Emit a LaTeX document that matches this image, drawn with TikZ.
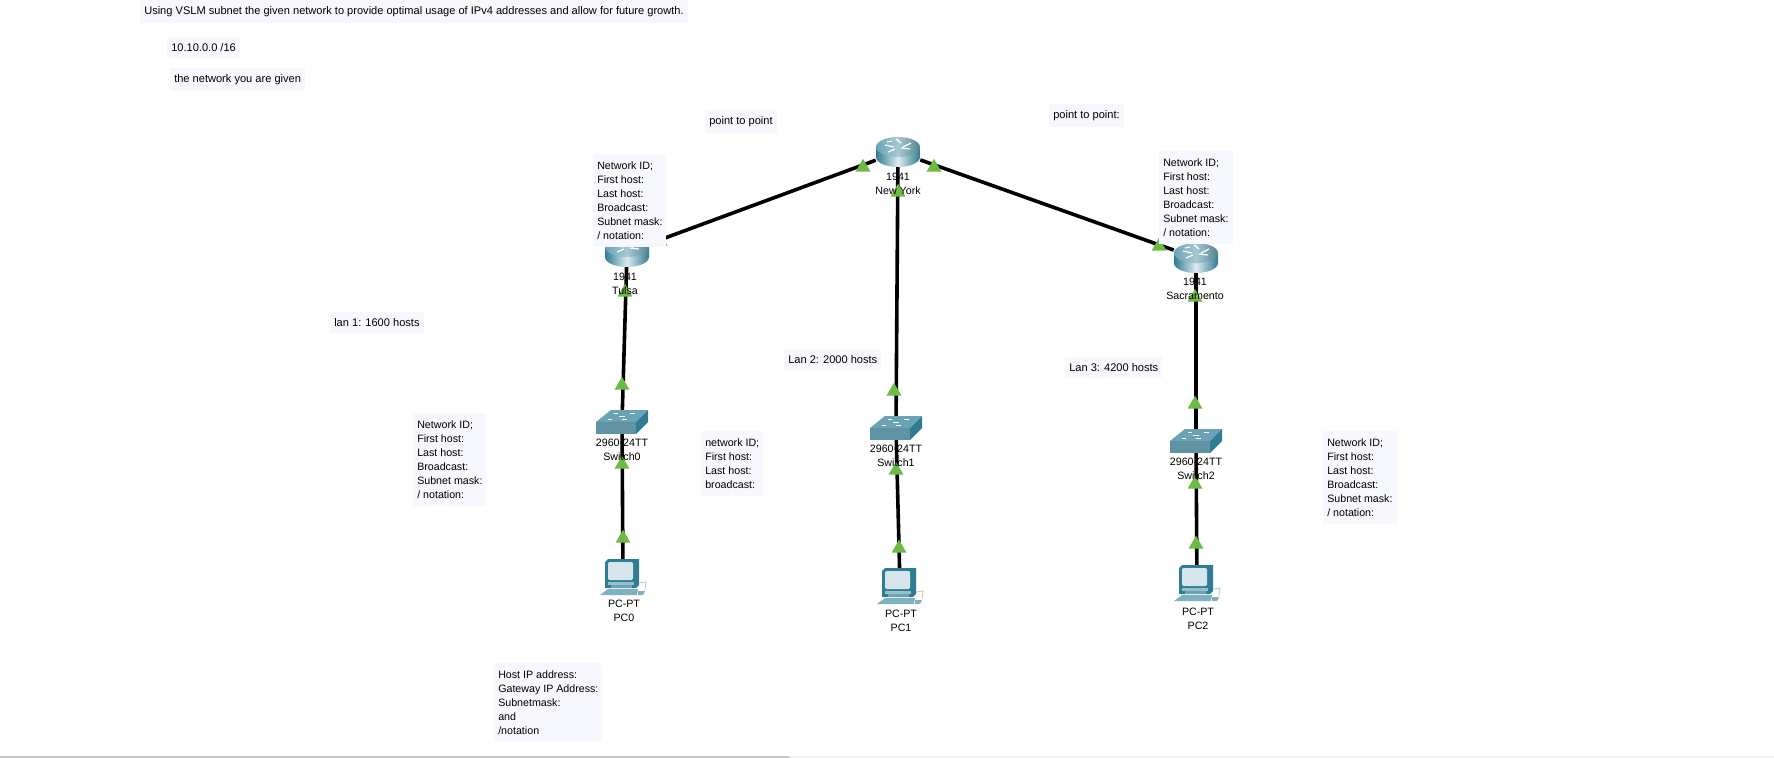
\documentclass[tikz,border=0pt]{standalone}
\usepackage{fontspec}
\setmainfont{Liberation Sans}
\usetikzlibrary{shapes.geometric}
\definecolor{notebg}{HTML}{F7F8FE}
\definecolor{lightgreen}{HTML}{6DBB45}
\definecolor{ciscodark}{HTML}{2F7C93}
\definecolor{ciscomid}{HTML}{6AA3B5}
\definecolor{ciscolight}{HTML}{D6E5EB}
\tikzset{
    routericon/.pic={
        \path[left color=ciscodark,right color=ciscodark,middle color=ciscolight!80!white]
            (-22,-5) -- (-22,5) arc[start angle=180,end angle=0,x radius=22,y radius=10] -- (22,-5) -- cycle;
        \path[left color=ciscomid,right color=ciscomid!80!black,middle color=ciscomid!60!white]
            (0,-5) ellipse[x radius=22,y radius=10];
        \draw[white,line width=0.9pt] (-13,-7) -- (-4,-5) (13,-9) -- (5,-5) (-10,0) -- (-3,-3) (12,-3) -- (3,-4) (-2,-13) -- (3,-9) (-6,-11) -- (-11,-10);
    },
    switchicon/.pic={
        \fill[ciscomid] (-26,0) -- (-11,-12) -- (26,-12) -- (14,0) -- cycle;
        \fill[ciscomid!90!black] (-26,0) -- (14,0) -- (14,12) -- (-26,12) -- cycle;
        \fill[ciscodark] (14,0) -- (26,-12) -- (26,0) -- (14,12) -- cycle;
        \draw[white,line width=0.7pt] (-14,-3) -- (-10,-3) (0,-3) -- (5,-3) (-8,-9) -- (-4,-9) (8,-9) -- (13,-9) (-3,-6) -- (3,-6);
    },
    pcicon/.pic={
        \fill[ciscodark] (-18,-15) -- (-15,-18) -- (16,-18) -- (16,8) -- (13,11) -- (-18,11) -- cycle;
        \fill[ciscolight,rounded corners=1pt] (-15,-15) rectangle (10,3);
        \fill[ciscomid!70!white] (-15,5) rectangle (11,8);
        \fill[ciscomid] (-12,8) rectangle (9,11);
        \fill[ciscomid!85!white] (-23,18) -- (-15,12) -- (15,12) -- (14,18) -- cycle;
        \fill[ciscomid!85!white] (15,14) -- (22,14) -- (20,18) -- (15,18) -- cycle;
        \draw[ciscolight!70!gray,line width=0.6pt] (16,6) -- (23,5) -- (22,13);
    }
}
\begin{document}
\begin{tikzpicture}[
    x=0.75pt,y=-0.75pt,
    device/.style={rectangle,inner sep=0pt},
    link/.style={line width=2.7pt,black},
    lamp/.style={regular polygon,regular polygon sides=3,fill=lightgreen,inner sep=0pt,minimum size=13pt,anchor=south},
    devlabel/.style={align=center,inner sep=0pt,font=\fontsize{8}{10.5}\selectfont},
    note/.style={fill=notebg,anchor=north west,align=left,inner xsep=3pt,inner ysep=5.6pt,font=\fontsize{8}{10.5}\selectfont},
    oneline/.style={inner ysep=4.6pt,font=\fontsize{8.3}{10.5}\selectfont}
]
    \useasboundingbox (0,0) rectangle (1774,758);
    \fill[white] (0,0) rectangle (1774,758);

    % Scroll bar along the bottom edge
    \fill[black!6] (789,756) rectangle (1774,758);
    \fill[black!22] (0,756) rectangle (789,758);

    % Devices
    \node[device,minimum width=33pt,minimum height=22pt] (newyork) at (898,152) {};
    \node[device,minimum width=33pt,minimum height=22pt] (tulsa) at (627,252) {};
    \node[device,minimum width=33pt,minimum height=22pt] (sacramento) at (1196,258) {};
    \node[device,minimum width=36pt,minimum height=16pt] (switch0) at (622,422) {};
    \node[device,minimum width=36pt,minimum height=16pt] (switch1) at (896,428) {};
    \node[device,minimum width=36pt,minimum height=16pt] (switch2) at (1196,441) {};
    \node[device,minimum width=30pt,minimum height=26pt] (pc0) at (623,577) {};
    \node[device,minimum width=30pt,minimum height=26pt] (pc1) at (900,586) {};
    \node[device,minimum width=30pt,minimum height=26pt] (pc2) at (1197,583) {};

    % Links
    \draw[link] (tulsa) -- (newyork);
    \draw[link] (newyork) -- (sacramento);
    \draw[link] (newyork) -- (switch1);
    \draw[link] (tulsa) -- (switch0);
    \draw[link] (sacramento) -- (switch2);
    \draw[link] (switch0) -- (pc0);
    \draw[link] (switch1) -- (pc1);
    \draw[link] (switch2) -- (pc2);

    % Icons
    \pic at (newyork) {routericon};
    \pic at (tulsa) {routericon};
    \pic at (sacramento) {routericon};
    \pic at (switch0) {switchicon};
    \pic at (switch1) {switchicon};
    \pic at (switch2) {switchicon};
    \pic at (pc0) {pcicon};
    \pic at (pc1) {pcicon};
    \pic at (pc2) {pcicon};

    % Link lights
    \node[lamp] (lampnyleft) at (863,172) {};
    \node[lamp] (lampnyright) at (934,172) {};
    \node[lamp] (lampnydown) at (898,197) {};
    \node[lamp] (lamptulsaright) at (660,246) {};
    \node[lamp] (lamptulsadown) at (625,297) {};
    \node[lamp] (lampsacleft) at (1159,251) {};
    \node[lamp] (lampsacdown) at (1195,302) {};
    \node[lamp] (lampswaup) at (622,390) {};
    \node[lamp] (lampswadown) at (622,469) {};
    \node[lamp] (lamppca) at (623,543) {};
    \node[lamp] (lampswbup) at (894,396) {};
    \node[lamp] (lampswbdown) at (896,475) {};
    \node[lamp] (lamppcb) at (899,553) {};
    \node[lamp] (lampswcup) at (1195,409) {};
    \node[lamp] (lampswcdown) at (1195,489) {};
    \node[lamp] (lamppcc) at (1196,549) {};

    % Device labels
    \node[devlabel] (nylabel) at (898,184) {1941\\New York};
    \node[devlabel] (tulsalabel) at (625,284) {1941\\Tulsa};
    \node[devlabel] (saclabel) at (1195,289) {1941\\Sacramento};
    \node[devlabel] (swalabel) at (622,450) {2960-24TT\\Switch0};
    \node[devlabel] (swblabel) at (896,456) {2960-24TT\\Switch1};
    \node[devlabel] (swclabel) at (1196,469) {2960-24TT\\Switch2};
    \node[devlabel] (pcalabel) at (624,611) {PC-PT\\PC0};
    \node[devlabel] (pcblabel) at (901,621) {PC-PT\\PC1};
    \node[devlabel] (pcclabel) at (1198,619) {PC-PT\\PC2};

    % Notes
    \node[note,oneline] (title) at (140,0) {Using VSLM subnet the given network to provide optimal usage of IPv4 addresses and allow for future growth.};
    \node[note,oneline] (given) at (167,37) {10.10.0.0 /16};
    \node[note,oneline] (givennote) at (170,68) {the network you are given};
    \node[note,oneline] (ptpleft) at (705,110) {point to point};
    \node[note,oneline] (ptpright) at (1049,104) {point to point:};
    \node[note,oneline] (lanone) at (330,312) {lan 1: 1600 hosts};
    \node[note,oneline] (lantwo) at (784,349) {Lan 2: 2000 hosts};
    \node[note,oneline] (lanthree) at (1065,357) {Lan 3: 4200 hosts};
    \node[note] (tulsanote) at (593,154) {Network ID;\\First host:\\Last host:\\Broadcast:\\Subnet mask:\\/ notation:};
    \node[note] (sacnote) at (1159,151) {Network ID;\\First host:\\Last host:\\Broadcast:\\Subnet mask:\\/ notation:};
    \node[note] (lanonenote) at (413,413) {Network ID;\\First host:\\Last host:\\Broadcast:\\Subnet mask:\\/ notation:};
    \node[note] (lantwonote) at (701,431) {network ID;\\First host:\\Last host:\\broadcast:};
    \node[note] (lanthreenote) at (1323,431) {Network ID;\\First host:\\Last host:\\Broadcast:\\Subnet mask:\\/ notation:};
    \node[note] (hostnote) at (494,663) {Host IP address:\\Gateway IP Address:\\Subnetmask:\\and\\/notation};
\end{tikzpicture}
\end{document}
